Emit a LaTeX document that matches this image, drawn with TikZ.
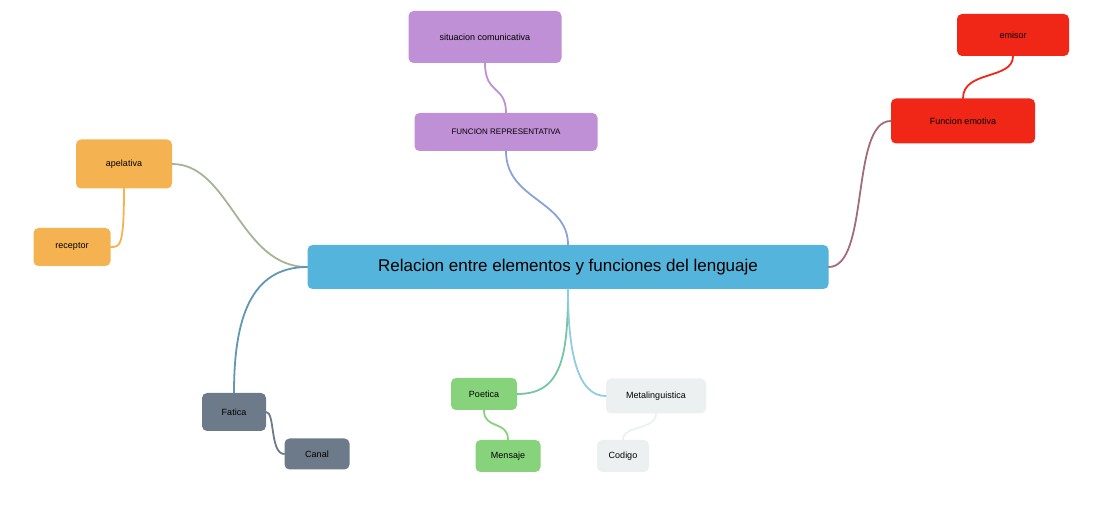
\documentclass[tikz,border=0pt]{standalone}
\usepackage{fontspec}
\setmainfont{Liberation Sans}
\definecolor{cblue}{HTML}{55B4DB}
\definecolor{cpurple}{HTML}{C090D6}
\definecolor{cred}{HTML}{F02617}
\definecolor{corange}{HTML}{F4B350}
\definecolor{cgray}{HTML}{6C7A89}
\definecolor{cgreen}{HTML}{87D37C}
\definecolor{clight}{HTML}{ECF0F1}
\begin{document}
\begin{tikzpicture}[x=1pt,y=-1pt,
  box/.style={rounded corners=5pt,inner sep=0pt,font=\fontsize{9}{10}\selectfont,text=black},
  link/.style={line width=1.8pt,line cap=round}]
\useasboundingbox (0,0) rectangle (1093,510);
\node[box,fill=cblue,minimum width=521pt,minimum height=44pt,font=\fontsize{17}{19}\selectfont] (c) at (568,267) {Relacion entre elementos y funciones del lenguaje};
\node[box,fill=cpurple,minimum width=153pt,minimum height=52pt] (sit) at (485,37) {situacion comunicativa};
\node[box,fill=cpurple,minimum width=183pt,minimum height=38pt,font=\fontsize{8}{9}\selectfont] (rep) at (506,132) {FUNCION REPRESENTATIVA};
\node[box,fill=cred,minimum width=112pt,minimum height=42pt] (emi) at (1013,35) {emisor};
\node[box,fill=cred,minimum width=144pt,minimum height=45pt] (emo) at (963,121) {Funcion emotiva};
\node[box,fill=corange,minimum width=96pt,minimum height=49pt] (ape) at (124,164) {apelativa};
\node[box,fill=corange,minimum width=77pt,minimum height=38pt] (rec) at (72,247) {receptor};
\node[box,fill=cgray,minimum width=64pt,minimum height=38pt] (fat) at (234,412) {Fatica};
\node[box,fill=cgray,minimum width=65pt,minimum height=31pt] (can) at (317,454) {Canal};
\node[box,fill=cgreen,minimum width=66pt,minimum height=32pt] (poe) at (484,394) {Poetica};
\node[box,fill=cgreen,minimum width=65pt,minimum height=32pt] (men) at (508,456) {Mensaje};
\node[box,fill=clight,minimum width=100pt,minimum height=35pt] (met) at (656,396) {Metalinguistica};
\node[box,fill=clight,minimum width=52pt,minimum height=32pt] (cod) at (623,456) {Codigo};
% main links
\draw[link,cpurple!50!cblue] (c.north) .. controls (568,200) and (506,200) .. (rep.south);
\draw[link,cred!50!cblue] (c.east) .. controls (870,267) and (850,121) .. (emo.west);
\draw[link,corange!50!cblue] (c.west) .. controls (240,267) and (230,164) .. (ape.east);
\draw[link,cgray!50!cblue] (c.west) .. controls (250,267) and (234,320) .. (fat.north);
\draw[link,cgreen!60!cblue] (c.south) .. controls (568,360) and (560,394) .. (poe.east);
\draw[link,clight!40!cblue] (c.south) .. controls (568,360) and (580,396) .. (met.west);
% child links
\draw[link,cpurple] (sit.south) .. controls (485,95) and (506,85) .. (rep.north);
\draw[link,cred] (emi.south) .. controls (1013,80) and (963,70) .. (emo.north);
\draw[link,corange] (ape.south) .. controls (124,247) and (120,247) .. (rec.east);
\draw[link,cgray] (fat.east) .. controls (275,412) and (270,454) .. (can.west);
\draw[link,cgreen] (poe.south) .. controls (484,430) and (508,420) .. (men.north);
\draw[link,clight] (met.south) .. controls (656,430) and (623,425) .. (cod.north);
\end{tikzpicture}
\end{document}
